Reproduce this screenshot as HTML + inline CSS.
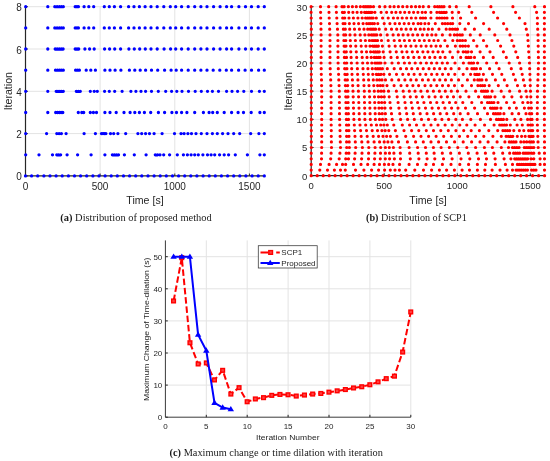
<!DOCTYPE html>
<html><head><meta charset="utf-8"><title>Figure</title>
<style>
html,body{margin:0;padding:0;background:#fff;width:550px;height:461px;overflow:hidden}
svg{display:block;filter:blur(0.45px)}
text{font-family:"Liberation Sans",Arial,sans-serif;fill:#262626}
.ta{font-size:10px}
.tb{font-size:9.5px}
.la{font-size:10.6px}
.tc{font-size:8px}
.cap{font-family:"Liberation Serif","Times New Roman",serif;font-size:10.3px;fill:#1a1a1a}
</style></head><body>
<svg width="550" height="461" viewBox="0 0 550 461">
<rect width="550" height="461" fill="#fff"/>
<g id="pa">
<path d="M100.1 175.9V6.7M174.8 175.9V6.7M249.4 175.9V6.7M25.5 133.6H264.4M25.5 91.3H264.4M25.5 49.0H264.4M25.5 6.7H264.4" stroke="#e3e3e3" stroke-width="1" fill="none"/>
<path d="M25.5 6.7V175.9H264.4" stroke="#262626" stroke-width="1.2" fill="none"/>
<path d="M25.5 175.9h2.4M25.5 133.6h2.4M25.5 91.3h2.4M25.5 49.0h2.4M25.5 6.7h2.4M100.1 175.9v-2.4M174.8 175.9v-2.4M249.4 175.9v-2.4" stroke="#262626" stroke-width="1" fill="none"/>
<path d="M25.7 6.7h0M47.8 6.7h0M54.8 6.7h0M57.1 6.7h0M59.4 6.7h0M61.4 6.7h0M63.3 6.7h0M75.2 6.7h0M76.9 6.7h0M78.4 6.7h0M84.1 6.7h0M88.8 6.7h0M93.7 6.7h0M104.3 6.7h0M109.3 6.7h0M114.4 6.7h0M120.6 6.7h0M128.6 6.7h0M134.0 6.7h0M139.4 6.7h0M145.1 6.7h0M151.0 6.7h0M157.2 6.7h0M163.8 6.7h0M170.3 6.7h0M175.7 6.7h0M181.6 6.7h0M188.2 6.7h0M194.7 6.7h0M200.9 6.7h0M207.0 6.7h0M213.6 6.7h0M220.1 6.7h0M226.6 6.7h0M231.6 6.7h0M238.9 6.7h0M245.5 6.7h0M251.5 6.7h0M258.2 6.7h0M264.3 6.7h0M25.7 27.9h0M47.8 27.9h0M54.8 27.9h0M57.1 27.9h0M59.4 27.9h0M61.4 27.9h0M63.3 27.9h0M75.2 27.9h0M76.9 27.9h0M78.4 27.9h0M84.1 27.9h0M88.8 27.9h0M93.7 27.9h0M104.3 27.9h0M109.3 27.9h0M114.4 27.9h0M120.6 27.9h0M128.6 27.9h0M134.0 27.9h0M139.4 27.9h0M145.1 27.9h0M151.0 27.9h0M157.2 27.9h0M163.8 27.9h0M170.3 27.9h0M175.7 27.9h0M181.6 27.9h0M188.2 27.9h0M194.7 27.9h0M200.9 27.9h0M207.0 27.9h0M213.6 27.9h0M220.1 27.9h0M226.6 27.9h0M231.6 27.9h0M238.9 27.9h0M245.5 27.9h0M251.5 27.9h0M258.2 27.9h0M264.3 27.9h0M25.7 49.0h0M47.8 49.0h0M55.2 49.0h0M57.2 49.0h0M59.3 49.0h0M61.3 49.0h0M63.1 49.0h0M75.2 49.0h0M77.0 49.0h0M78.7 49.0h0M84.9 49.0h0M89.6 49.0h0M94.2 49.0h0M104.6 49.0h0M109.6 49.0h0M114.7 49.0h0M120.6 49.0h0M128.9 49.0h0M134.3 49.0h0M139.7 49.0h0M145.3 49.0h0M151.0 49.0h0M157.2 49.0h0M164.1 49.0h0M170.6 49.0h0M175.7 49.0h0M181.6 49.0h0M188.2 49.0h0M194.7 49.0h0M200.9 49.0h0M207.0 49.0h0M213.6 49.0h0M220.1 49.0h0M226.6 49.0h0M231.6 49.0h0M238.9 49.0h0M245.5 49.0h0M251.5 49.0h0M258.2 49.0h0M264.3 49.0h0M25.7 70.2h0M47.8 70.2h0M55.5 70.2h0M57.6 70.2h0M59.6 70.2h0M61.4 70.2h0M63.3 70.2h0M75.6 70.2h0M77.5 70.2h0M79.4 70.2h0M86.2 70.2h0M90.8 70.2h0M95.4 70.2h0M104.9 70.2h0M110.0 70.2h0M115.1 70.2h0M120.9 70.2h0M129.4 70.2h0M134.8 70.2h0M140.2 70.2h0M145.6 70.2h0M151.5 70.2h0M157.7 70.2h0M164.6 70.2h0M171.1 70.2h0M176.2 70.2h0M181.6 70.2h0M188.2 70.2h0M194.7 70.2h0M200.9 70.2h0M207.0 70.2h0M213.2 70.2h0M219.8 70.2h0M226.3 70.2h0M231.6 70.2h0M238.6 70.2h0M245.1 70.2h0M251.5 70.2h0M258.6 70.2h0M264.3 70.2h0M25.7 91.3h0M47.8 91.3h0M56.2 91.3h0M58.0 91.3h0M59.9 91.3h0M61.6 91.3h0M63.3 91.3h0M76.3 91.3h0M78.3 91.3h0M80.3 91.3h0M90.3 91.3h0M94.2 91.3h0M97.3 91.3h0M104.6 91.3h0M109.3 91.3h0M114.7 91.3h0M122.1 91.3h0M130.9 91.3h0M135.9 91.3h0M141.0 91.3h0M145.6 91.3h0M151.5 91.3h0M158.3 91.3h0M165.7 91.3h0M171.6 91.3h0M176.8 91.3h0M182.0 91.3h0M188.5 91.3h0M195.2 91.3h0M201.3 91.3h0M207.5 91.3h0M212.4 91.3h0M218.5 91.3h0M226.6 91.3h0M232.0 91.3h0M237.6 91.3h0M243.8 91.3h0M251.5 91.3h0M259.4 91.3h0M264.3 91.3h0M25.7 112.5h0M47.8 112.5h0M55.7 112.5h0M57.6 112.5h0M59.4 112.5h0M61.1 112.5h0M62.8 112.5h0M78.3 112.5h0M81.8 112.5h0M83.7 112.5h0M90.3 112.5h0M93.4 112.5h0M96.5 112.5h0M104.9 112.5h0M110.0 112.5h0M116.2 112.5h0M124.0 112.5h0M130.1 112.5h0M134.8 112.5h0M139.4 112.5h0M144.4 112.5h0M150.7 112.5h0M158.4 112.5h0M164.6 112.5h0M171.9 112.5h0M176.5 112.5h0M181.6 112.5h0M186.9 112.5h0M194.7 112.5h0M203.4 112.5h0M209.1 112.5h0M212.7 112.5h0M217.3 112.5h0M224.2 112.5h0M231.6 112.5h0M238.1 112.5h0M243.5 112.5h0M251.2 112.5h0M259.9 112.5h0M264.3 112.5h0M25.7 133.6h0M46.6 133.6h0M56.8 133.6h0M59.1 133.6h0M61.4 133.6h0M66.1 133.6h0M84.1 133.6h0M95.4 133.6h0M101.5 133.6h0M103.0 133.6h0M104.4 133.6h0M105.9 133.6h0M110.5 133.6h0M113.7 133.6h0M117.9 133.6h0M125.7 133.6h0M137.9 133.6h0M141.7 133.6h0M145.6 133.6h0M149.5 133.6h0M154.1 133.6h0M162.1 133.6h0M174.5 133.6h0M181.0 133.6h0M184.1 133.6h0M187.9 133.6h0M191.5 133.6h0M196.0 133.6h0M201.3 133.6h0M207.0 133.6h0M212.4 133.6h0M217.3 133.6h0M222.6 133.6h0M228.0 133.6h0M233.7 133.6h0M239.7 133.6h0M250.7 133.6h0M258.9 133.6h0M264.3 133.6h0M25.7 154.8h0M39.0 154.8h0M52.5 154.8h0M56.8 154.8h0M58.6 154.8h0M60.6 154.8h0M67.1 154.8h0M77.6 154.8h0M91.1 154.8h0M104.9 154.8h0M112.4 154.8h0M114.4 154.8h0M116.5 154.8h0M118.5 154.8h0M124.4 154.8h0M134.3 154.8h0M146.1 154.8h0M155.3 154.8h0M157.5 154.8h0M160.0 154.8h0M163.7 154.8h0M169.6 154.8h0M177.3 154.8h0M183.4 154.8h0M187.4 154.8h0M191.1 154.8h0M194.7 154.8h0M198.3 154.8h0M202.9 154.8h0M207.5 154.8h0M211.1 154.8h0M214.7 154.8h0M219.6 154.8h0M224.2 154.8h0M228.6 154.8h0M235.3 154.8h0M247.4 154.8h0M259.9 154.8h0M264.3 154.8h0M25.5 175.9h0M31.6 175.9h0M37.7 175.9h0M43.9 175.9h0M50.0 175.9h0M56.1 175.9h0M62.2 175.9h0M68.4 175.9h0M74.5 175.9h0M80.6 175.9h0M86.7 175.9h0M92.9 175.9h0M99.0 175.9h0M105.1 175.9h0M111.2 175.9h0M117.3 175.9h0M123.5 175.9h0M129.6 175.9h0M135.7 175.9h0M141.8 175.9h0M148.0 175.9h0M154.1 175.9h0M160.2 175.9h0M166.3 175.9h0M172.5 175.9h0M178.6 175.9h0M184.7 175.9h0M190.8 175.9h0M196.9 175.9h0M203.1 175.9h0M209.2 175.9h0M215.3 175.9h0M221.4 175.9h0M227.6 175.9h0M233.7 175.9h0M239.8 175.9h0M245.9 175.9h0M252.1 175.9h0M258.2 175.9h0M264.3 175.9h0" stroke="#0000ff" stroke-width="3.3" stroke-linecap="round" fill="none"/>
<text x="21.8" y="180.4" class="ta" text-anchor="end">0</text>
<text x="21.8" y="138.1" class="ta" text-anchor="end">2</text>
<text x="21.8" y="95.8" class="ta" text-anchor="end">4</text>
<text x="21.8" y="53.5" class="ta" text-anchor="end">6</text>
<text x="21.8" y="11.2" class="ta" text-anchor="end">8</text>
<text x="25.5" y="190" class="ta" text-anchor="middle">0</text>
<text x="100.1" y="190" class="ta" text-anchor="middle">500</text>
<text x="174.8" y="190" class="ta" text-anchor="middle">1000</text>
<text x="249.4" y="190" class="ta" text-anchor="middle">1500</text>
<text x="145" y="204" class="la" text-anchor="middle">Time [s]</text>
<text transform="translate(12.2 91.2) rotate(-90)" class="la" text-anchor="middle">Iteration</text>
</g>
<g id="pb">
<path d="M384.2 175.7V6.7M457.3 175.7V6.7M530.3 175.7V6.7M311.2 147.5H544.9M311.2 119.4H544.9M311.2 91.2H544.9M311.2 63.0H544.9M311.2 34.9H544.9M311.2 6.7H544.9" stroke="#e3e3e3" stroke-width="1" fill="none"/>
<path d="M311.2 6.7V175.7H544.9" stroke="#262626" stroke-width="1.2" fill="none"/>
<path d="M311.2 175.7h2.4M311.2 147.5h2.4M311.2 119.4h2.4M311.2 91.2h2.4M311.2 63.0h2.4M311.2 34.9h2.4M311.2 6.7h2.4M384.2 175.7v-2.4M457.3 175.7v-2.4M530.3 175.7v-2.4" stroke="#262626" stroke-width="1" fill="none"/>
<path d="M311.2 175.7h0M317.2 175.7h0M323.2 175.7h0M329.2 175.7h0M335.1 175.7h0M341.1 175.7h0M347.1 175.7h0M353.1 175.7h0M359.1 175.7h0M365.1 175.7h0M371.0 175.7h0M377.0 175.7h0M383.0 175.7h0M389.0 175.7h0M395.0 175.7h0M401.0 175.7h0M407.0 175.7h0M412.9 175.7h0M418.9 175.7h0M424.9 175.7h0M430.9 175.7h0M436.9 175.7h0M442.9 175.7h0M448.8 175.7h0M454.8 175.7h0M460.8 175.7h0M466.8 175.7h0M472.8 175.7h0M478.8 175.7h0M484.8 175.7h0M490.7 175.7h0M496.7 175.7h0M502.7 175.7h0M508.7 175.7h0M514.7 175.7h0M520.7 175.7h0M526.6 175.7h0M532.6 175.7h0M538.6 175.7h0M544.6 175.7h0M311.2 170.1h0M319.8 170.1h0M327.5 170.1h0M334.4 170.1h0M340.5 170.1h0M345.3 170.1h0M355.5 170.1h0M363.9 170.1h0M371.6 170.1h0M378.6 170.1h0M384.6 170.1h0M390.3 170.1h0M395.0 170.1h0M399.4 170.1h0M405.7 170.1h0M414.8 170.1h0M423.5 170.1h0M431.6 170.1h0M439.4 170.1h0M446.6 170.1h0M454.4 170.1h0M462.1 170.1h0M469.5 170.1h0M477.4 170.1h0M484.8 170.1h0M492.1 170.1h0M500.0 170.1h0M507.1 170.1h0M512.5 170.1h0M516.1 170.1h0M518.0 170.1h0M519.9 170.1h0M521.8 170.1h0M523.7 170.1h0M525.6 170.1h0M527.5 170.1h0M531.6 170.1h0M533.8 170.1h0M536.0 170.1h0M544.5 170.1h0M311.2 164.4h0M320.5 164.4h0M329.1 164.4h0M336.6 164.4h0M342.5 164.4h0M345.7 164.4h0M353.5 164.4h0M361.0 164.4h0M367.7 164.4h0M374.1 164.4h0M379.5 164.4h0M384.4 164.4h0M388.7 164.4h0M393.0 164.4h0M399.6 164.4h0M409.1 164.4h0M417.5 164.4h0M426.0 164.4h0M433.5 164.4h0M442.4 164.4h0M451.0 164.4h0M459.8 164.4h0M468.6 164.4h0M477.4 164.4h0M485.5 164.4h0M495.4 164.4h0M505.4 164.4h0M512.5 164.4h0M517.4 164.4h0M519.3 164.4h0M521.3 164.4h0M523.2 164.4h0M525.2 164.4h0M527.1 164.4h0M529.1 164.4h0M531.0 164.4h0M533.0 164.4h0M534.9 164.4h0M540.1 164.4h0M544.5 164.4h0M311.2 158.8h0M321.5 158.8h0M330.7 158.8h0M339.2 158.8h0M345.7 158.8h0M348.5 158.8h0M354.6 158.8h0M361.6 158.8h0M368.5 158.8h0M374.6 158.8h0M380.3 158.8h0M385.3 158.8h0M389.6 158.8h0M394.4 158.8h0M400.5 158.8h0M410.3 158.8h0M418.9 158.8h0M427.1 158.8h0M434.8 158.8h0M443.5 158.8h0M452.1 158.8h0M461.0 158.8h0M469.8 158.8h0M478.5 158.8h0M486.5 158.8h0M495.1 158.8h0M504.1 158.8h0M510.9 158.8h0M514.7 158.8h0M516.6 158.8h0M518.4 158.8h0M520.3 158.8h0M522.2 158.8h0M524.1 158.8h0M525.9 158.8h0M527.8 158.8h0M531.1 158.8h0M533.8 158.8h0M540.1 158.8h0M544.5 158.8h0M311.2 153.2h0M321.6 153.2h0M331.1 153.2h0M339.9 153.2h0M346.2 153.2h0M348.9 153.2h0M355.1 153.2h0M362.0 153.2h0M368.6 153.2h0M374.9 153.2h0M380.5 153.2h0M385.4 153.2h0M389.5 153.2h0M393.9 153.2h0M400.3 153.2h0M409.7 153.2h0M418.2 153.2h0M426.3 153.2h0M434.1 153.2h0M442.3 153.2h0M450.7 153.2h0M459.4 153.2h0M468.3 153.2h0M477.1 153.2h0M485.4 153.2h0M493.8 153.2h0M502.7 153.2h0M509.7 153.2h0M513.6 153.2h0M515.6 153.2h0M517.7 153.2h0M519.7 153.2h0M523.2 153.2h0M525.1 153.2h0M527.0 153.2h0M528.9 153.2h0M531.5 153.2h0M533.8 153.2h0M539.2 153.2h0M544.5 153.2h0M311.3 147.5h0M321.7 147.5h0M331.5 147.5h0M340.5 147.5h0M346.7 147.5h0M349.4 147.5h0M355.7 147.5h0M362.4 147.5h0M368.8 147.5h0M375.1 147.5h0M380.7 147.5h0M385.4 147.5h0M389.3 147.5h0M393.4 147.5h0M400.1 147.5h0M409.1 147.5h0M417.6 147.5h0M425.5 147.5h0M433.4 147.5h0M441.1 147.5h0M449.3 147.5h0M457.8 147.5h0M466.8 147.5h0M475.6 147.5h0M484.4 147.5h0M492.4 147.5h0M501.3 147.5h0M508.5 147.5h0M512.5 147.5h0M514.7 147.5h0M516.9 147.5h0M519.1 147.5h0M524.3 147.5h0M526.2 147.5h0M528.1 147.5h0M530.0 147.5h0M531.9 147.5h0M533.8 147.5h0M538.2 147.5h0M544.5 147.5h0M311.3 141.9h0M321.7 141.9h0M331.4 141.9h0M340.3 141.9h0M346.6 141.9h0M349.2 141.9h0M355.3 141.9h0M361.8 141.9h0M368.0 141.9h0M374.1 141.9h0M379.6 141.9h0M384.2 141.9h0M387.9 141.9h0M391.9 141.9h0M398.5 141.9h0M407.4 141.9h0M415.6 141.9h0M423.3 141.9h0M431.0 141.9h0M438.6 141.9h0M446.5 141.9h0M454.6 141.9h0M463.2 141.9h0M471.6 141.9h0M480.0 141.9h0M488.1 141.9h0M497.1 141.9h0M504.9 141.9h0M509.3 141.9h0M511.5 141.9h0M513.7 141.9h0M516.0 141.9h0M520.8 141.9h0M523.9 141.9h0M526.7 141.9h0M529.5 141.9h0M531.6 141.9h0M533.4 141.9h0M538.0 141.9h0M544.5 141.9h0M311.3 136.3h0M321.7 136.3h0M331.3 136.3h0M340.1 136.3h0M346.6 136.3h0M349.0 136.3h0M355.0 136.3h0M361.2 136.3h0M367.2 136.3h0M373.2 136.3h0M378.6 136.3h0M383.0 136.3h0M386.6 136.3h0M390.4 136.3h0M396.9 136.3h0M405.7 136.3h0M413.6 136.3h0M421.0 136.3h0M428.6 136.3h0M436.1 136.3h0M443.7 136.3h0M451.4 136.3h0M459.5 136.3h0M467.7 136.3h0M475.6 136.3h0M483.8 136.3h0M492.9 136.3h0M501.3 136.3h0M506.1 136.3h0M508.3 136.3h0M510.6 136.3h0M512.8 136.3h0M517.3 136.3h0M521.6 136.3h0M525.2 136.3h0M529.0 136.3h0M531.3 136.3h0M533.1 136.3h0M537.8 136.3h0M544.5 136.3h0M311.3 130.6h0M321.7 130.6h0M331.3 130.6h0M340.0 130.6h0M346.5 130.6h0M348.9 130.6h0M354.6 130.6h0M360.6 130.6h0M366.5 130.6h0M372.2 130.6h0M377.5 130.6h0M381.9 130.6h0M385.2 130.6h0M388.8 130.6h0M395.4 130.6h0M404.0 130.6h0M411.6 130.6h0M418.8 130.6h0M426.3 130.6h0M433.5 130.6h0M440.8 130.6h0M448.3 130.6h0M455.9 130.6h0M463.7 130.6h0M471.2 130.6h0M479.4 130.6h0M488.8 130.6h0M497.7 130.6h0M502.9 130.6h0M505.2 130.6h0M507.4 130.6h0M509.7 130.6h0M513.8 130.6h0M519.4 130.6h0M523.8 130.6h0M528.6 130.6h0M531.1 130.6h0M532.7 130.6h0M537.6 130.6h0M544.4 130.6h0M311.3 125.0h0M321.7 125.0h0M331.2 125.0h0M339.8 125.0h0M346.5 125.0h0M348.7 125.0h0M354.3 125.0h0M360.0 125.0h0M365.7 125.0h0M371.3 125.0h0M376.5 125.0h0M380.7 125.0h0M383.9 125.0h0M387.3 125.0h0M393.8 125.0h0M402.3 125.0h0M409.6 125.0h0M416.5 125.0h0M423.9 125.0h0M431.0 125.0h0M438.0 125.0h0M445.1 125.0h0M452.2 125.0h0M459.8 125.0h0M466.8 125.0h0M475.1 125.0h0M484.6 125.0h0M494.1 125.0h0M499.7 125.0h0M502.0 125.0h0M504.3 125.0h0M506.5 125.0h0M510.3 125.0h0M517.1 125.0h0M522.3 125.0h0M528.1 125.0h0M530.8 125.0h0M532.4 125.0h0M537.4 125.0h0M544.4 125.0h0M311.3 119.4h0M321.7 119.4h0M331.1 119.4h0M339.6 119.4h0M346.4 119.4h0M348.5 119.4h0M353.9 119.4h0M359.4 119.4h0M364.9 119.4h0M370.3 119.4h0M375.4 119.4h0M379.5 119.4h0M382.5 119.4h0M385.8 119.4h0M392.2 119.4h0M400.6 119.4h0M407.6 119.4h0M414.3 119.4h0M421.5 119.4h0M428.5 119.4h0M435.2 119.4h0M441.9 119.4h0M448.6 119.4h0M455.8 119.4h0M462.4 119.4h0M470.8 119.4h0M480.4 119.4h0M490.5 119.4h0M496.5 119.4h0M498.8 119.4h0M501.1 119.4h0M503.4 119.4h0M506.8 119.4h0M514.8 119.4h0M520.9 119.4h0M527.6 119.4h0M530.5 119.4h0M532.0 119.4h0M537.2 119.4h0M544.4 119.4h0M311.3 113.7h0M321.7 113.7h0M331.1 113.7h0M339.5 113.7h0M346.2 113.7h0M348.4 113.7h0M353.7 113.7h0M359.2 113.7h0M364.8 113.7h0M370.1 113.7h0M375.2 113.7h0M379.2 113.7h0M382.2 113.7h0M385.4 113.7h0M391.5 113.7h0M399.8 113.7h0M406.7 113.7h0M413.3 113.7h0M420.2 113.7h0M427.0 113.7h0M433.6 113.7h0M440.2 113.7h0M446.8 113.7h0M453.7 113.7h0M460.2 113.7h0M468.1 113.7h0M477.5 113.7h0M487.5 113.7h0M493.5 113.7h0M495.7 113.7h0M498.0 113.7h0M500.2 113.7h0M503.9 113.7h0M512.1 113.7h0M518.7 113.7h0M526.0 113.7h0M529.6 113.7h0M531.7 113.7h0M537.3 113.7h0M544.4 113.7h0M311.3 108.1h0M321.7 108.1h0M331.1 108.1h0M339.5 108.1h0M346.1 108.1h0M348.3 108.1h0M353.5 108.1h0M359.0 108.1h0M364.7 108.1h0M369.9 108.1h0M375.0 108.1h0M379.0 108.1h0M381.9 108.1h0M385.0 108.1h0M390.7 108.1h0M398.9 108.1h0M405.8 108.1h0M412.3 108.1h0M418.9 108.1h0M425.5 108.1h0M432.1 108.1h0M438.5 108.1h0M444.9 108.1h0M451.6 108.1h0M458.0 108.1h0M465.5 108.1h0M474.6 108.1h0M484.5 108.1h0M490.5 108.1h0M492.7 108.1h0M494.9 108.1h0M497.0 108.1h0M500.9 108.1h0M509.4 108.1h0M516.4 108.1h0M524.4 108.1h0M528.7 108.1h0M531.4 108.1h0M537.3 108.1h0M544.4 108.1h0M311.3 102.5h0M321.7 102.5h0M331.1 102.5h0M339.4 102.5h0M345.9 102.5h0M348.1 102.5h0M353.4 102.5h0M358.8 102.5h0M364.5 102.5h0M369.8 102.5h0M374.7 102.5h0M378.7 102.5h0M381.7 102.5h0M384.7 102.5h0M390.0 102.5h0M398.1 102.5h0M405.0 102.5h0M411.3 102.5h0M417.6 102.5h0M423.9 102.5h0M430.5 102.5h0M436.8 102.5h0M443.1 102.5h0M449.5 102.5h0M455.7 102.5h0M462.8 102.5h0M471.8 102.5h0M481.6 102.5h0M487.5 102.5h0M489.6 102.5h0M491.7 102.5h0M493.9 102.5h0M498.0 102.5h0M506.6 102.5h0M514.2 102.5h0M522.8 102.5h0M527.8 102.5h0M531.1 102.5h0M537.4 102.5h0M544.4 102.5h0M311.3 96.8h0M321.7 96.8h0M331.1 96.8h0M339.4 96.8h0M345.8 96.8h0M348.0 96.8h0M353.2 96.8h0M358.6 96.8h0M364.4 96.8h0M369.6 96.8h0M374.5 96.8h0M378.5 96.8h0M381.4 96.8h0M384.3 96.8h0M389.2 96.8h0M397.2 96.8h0M404.1 96.8h0M410.3 96.8h0M416.3 96.8h0M422.4 96.8h0M429.0 96.8h0M435.1 96.8h0M441.2 96.8h0M447.4 96.8h0M453.5 96.8h0M460.2 96.8h0M468.9 96.8h0M478.6 96.8h0M484.5 96.8h0M486.6 96.8h0M488.6 96.8h0M490.7 96.8h0M495.0 96.8h0M503.9 96.8h0M511.9 96.8h0M521.2 96.8h0M526.9 96.8h0M530.8 96.8h0M537.4 96.8h0M544.4 96.8h0M311.3 91.2h0M321.7 91.2h0M331.1 91.2h0M339.3 91.2h0M345.6 91.2h0M347.9 91.2h0M353.0 91.2h0M358.4 91.2h0M364.3 91.2h0M369.4 91.2h0M374.3 91.2h0M378.2 91.2h0M381.1 91.2h0M383.9 91.2h0M388.5 91.2h0M396.4 91.2h0M403.2 91.2h0M409.3 91.2h0M415.0 91.2h0M420.9 91.2h0M427.4 91.2h0M433.4 91.2h0M439.4 91.2h0M445.3 91.2h0M451.3 91.2h0M457.5 91.2h0M466.0 91.2h0M475.6 91.2h0M481.5 91.2h0M483.5 91.2h0M485.5 91.2h0M487.5 91.2h0M492.1 91.2h0M501.2 91.2h0M509.7 91.2h0M519.6 91.2h0M526.0 91.2h0M530.5 91.2h0M537.5 91.2h0M544.4 91.2h0M311.3 85.6h0M321.6 85.6h0M330.9 85.6h0M339.1 85.6h0M345.4 85.6h0M347.7 85.6h0M352.7 85.6h0M358.1 85.6h0M364.0 85.6h0M369.0 85.6h0M373.8 85.6h0M377.6 85.6h0M380.3 85.6h0M382.9 85.6h0M387.0 85.6h0M394.1 85.6h0M401.0 85.6h0M407.1 85.6h0M412.9 85.6h0M418.6 85.6h0M425.0 85.6h0M430.9 85.6h0M436.8 85.6h0M442.5 85.6h0M448.4 85.6h0M454.5 85.6h0M462.3 85.6h0M471.5 85.6h0M477.9 85.6h0M480.6 85.6h0M482.7 85.6h0M484.7 85.6h0M489.2 85.6h0M498.3 85.6h0M507.1 85.6h0M517.5 85.6h0M524.7 85.6h0M530.3 85.6h0M537.7 85.6h0M544.4 85.6h0M311.3 79.9h0M321.5 79.9h0M330.7 79.9h0M338.8 79.9h0M345.2 79.9h0M347.4 79.9h0M352.4 79.9h0M357.9 79.9h0M363.7 79.9h0M368.6 79.9h0M373.3 79.9h0M376.9 79.9h0M379.5 79.9h0M382.0 79.9h0M385.5 79.9h0M391.8 79.9h0M398.7 79.9h0M404.9 79.9h0M410.8 79.9h0M416.3 79.9h0M422.5 79.9h0M428.3 79.9h0M434.2 79.9h0M439.8 79.9h0M445.5 79.9h0M451.4 79.9h0M458.6 79.9h0M467.4 79.9h0M474.3 79.9h0M477.7 79.9h0M479.8 79.9h0M481.9 79.9h0M486.3 79.9h0M495.4 79.9h0M504.4 79.9h0M515.4 79.9h0M523.4 79.9h0M530.1 79.9h0M537.9 79.9h0M544.4 79.9h0M311.3 74.3h0M321.3 74.3h0M330.4 74.3h0M338.6 74.3h0M344.9 74.3h0M347.2 74.3h0M352.0 74.3h0M357.6 74.3h0M363.3 74.3h0M368.3 74.3h0M372.8 74.3h0M376.3 74.3h0M378.7 74.3h0M381.0 74.3h0M383.9 74.3h0M389.6 74.3h0M396.5 74.3h0M402.8 74.3h0M408.6 74.3h0M414.1 74.3h0M420.1 74.3h0M425.8 74.3h0M431.6 74.3h0M437.0 74.3h0M442.6 74.3h0M448.4 74.3h0M454.8 74.3h0M463.2 74.3h0M470.6 74.3h0M474.8 74.3h0M477.0 74.3h0M479.2 74.3h0M483.4 74.3h0M492.5 74.3h0M501.8 74.3h0M513.4 74.3h0M522.2 74.3h0M529.9 74.3h0M538.1 74.3h0M544.4 74.3h0M311.3 68.7h0M321.2 68.7h0M330.2 68.7h0M338.3 68.7h0M344.7 68.7h0M346.9 68.7h0M351.7 68.7h0M357.4 68.7h0M363.0 68.7h0M367.9 68.7h0M372.3 68.7h0M375.6 68.7h0M377.9 68.7h0M380.1 68.7h0M382.4 68.7h0M387.3 68.7h0M394.2 68.7h0M400.6 68.7h0M406.5 68.7h0M411.8 68.7h0M417.6 68.7h0M423.2 68.7h0M429.0 68.7h0M434.3 68.7h0M439.7 68.7h0M445.3 68.7h0M451.1 68.7h0M459.1 68.7h0M467.0 68.7h0M471.9 68.7h0M474.1 68.7h0M476.4 68.7h0M480.5 68.7h0M489.6 68.7h0M499.1 68.7h0M511.3 68.7h0M520.9 68.7h0M529.7 68.7h0M538.3 68.7h0M544.4 68.7h0M311.3 63.0h0M321.1 63.0h0M330.0 63.0h0M338.1 63.0h0M344.5 63.0h0M346.7 63.0h0M351.4 63.0h0M357.1 63.0h0M362.7 63.0h0M367.5 63.0h0M371.8 63.0h0M375.0 63.0h0M377.1 63.0h0M379.1 63.0h0M380.9 63.0h0M385.0 63.0h0M392.0 63.0h0M398.4 63.0h0M404.4 63.0h0M409.5 63.0h0M415.2 63.0h0M420.7 63.0h0M426.4 63.0h0M431.5 63.0h0M436.8 63.0h0M442.3 63.0h0M447.4 63.0h0M455.0 63.0h0M463.4 63.0h0M469.0 63.0h0M471.3 63.0h0M473.6 63.0h0M477.6 63.0h0M486.7 63.0h0M496.5 63.0h0M509.2 63.0h0M519.6 63.0h0M529.5 63.0h0M538.5 63.0h0M544.4 63.0h0M311.3 57.4h0M321.1 57.4h0M330.0 57.4h0M338.0 57.4h0M344.4 57.4h0M346.5 57.4h0M351.1 57.4h0M356.7 57.4h0M362.2 57.4h0M367.0 57.4h0M371.2 57.4h0M374.3 57.4h0M376.3 57.4h0M378.3 57.4h0M380.1 57.4h0M384.1 57.4h0M391.0 57.4h0M397.3 57.4h0M403.2 57.4h0M408.2 57.4h0M413.8 57.4h0M419.1 57.4h0M424.6 57.4h0M429.7 57.4h0M434.9 57.4h0M440.2 57.4h0M445.1 57.4h0M452.5 57.4h0M460.7 57.4h0M466.1 57.4h0M468.5 57.4h0M470.9 57.4h0M474.5 57.4h0M483.4 57.4h0M493.2 57.4h0M506.3 57.4h0M517.7 57.4h0M529.1 57.4h0M538.4 57.4h0M544.4 57.4h0M311.3 51.8h0M321.1 51.8h0M330.0 51.8h0M338.0 51.8h0M344.2 51.8h0M346.3 51.8h0M350.8 51.8h0M356.3 51.8h0M361.7 51.8h0M366.5 51.8h0M370.6 51.8h0M373.6 51.8h0M375.5 51.8h0M377.5 51.8h0M379.3 51.8h0M383.2 51.8h0M390.1 51.8h0M396.3 51.8h0M402.0 51.8h0M406.9 51.8h0M412.3 51.8h0M417.5 51.8h0M422.9 51.8h0M427.9 51.8h0M433.0 51.8h0M438.1 51.8h0M442.8 51.8h0M450.0 51.8h0M458.1 51.8h0M463.2 51.8h0M465.7 51.8h0M468.1 51.8h0M471.5 51.8h0M480.1 51.8h0M490.0 51.8h0M503.4 51.8h0M515.8 51.8h0M528.7 51.8h0M538.3 51.8h0M544.4 51.8h0M311.3 46.1h0M321.1 46.1h0M330.0 46.1h0M337.9 46.1h0M344.1 46.1h0M346.0 46.1h0M350.6 46.1h0M355.8 46.1h0M361.2 46.1h0M365.9 46.1h0M370.0 46.1h0M372.8 46.1h0M374.8 46.1h0M376.6 46.1h0M378.4 46.1h0M382.4 46.1h0M389.1 46.1h0M395.2 46.1h0M400.8 46.1h0M405.7 46.1h0M410.9 46.1h0M416.0 46.1h0M421.1 46.1h0M426.1 46.1h0M431.1 46.1h0M436.0 46.1h0M440.5 46.1h0M447.4 46.1h0M455.4 46.1h0M460.2 46.1h0M462.8 46.1h0M465.4 46.1h0M468.4 46.1h0M476.9 46.1h0M486.7 46.1h0M500.6 46.1h0M513.8 46.1h0M528.4 46.1h0M538.2 46.1h0M544.4 46.1h0M311.3 40.5h0M321.1 40.5h0M330.0 40.5h0M337.9 40.5h0M343.9 40.5h0M345.8 40.5h0M350.3 40.5h0M355.4 40.5h0M360.7 40.5h0M365.4 40.5h0M369.4 40.5h0M372.1 40.5h0M374.0 40.5h0M375.8 40.5h0M377.6 40.5h0M381.5 40.5h0M388.2 40.5h0M394.2 40.5h0M399.6 40.5h0M404.4 40.5h0M409.4 40.5h0M414.4 40.5h0M419.4 40.5h0M424.3 40.5h0M429.2 40.5h0M433.9 40.5h0M438.2 40.5h0M444.9 40.5h0M452.8 40.5h0M457.3 40.5h0M460.0 40.5h0M462.6 40.5h0M465.4 40.5h0M473.6 40.5h0M483.5 40.5h0M497.7 40.5h0M511.9 40.5h0M528.0 40.5h0M538.1 40.5h0M544.4 40.5h0M311.3 34.9h0M321.1 34.9h0M330.0 34.9h0M337.8 34.9h0M343.8 34.9h0M345.6 34.9h0M350.0 34.9h0M355.0 34.9h0M360.2 34.9h0M364.9 34.9h0M368.8 34.9h0M371.4 34.9h0M373.2 34.9h0M375.0 34.9h0M376.8 34.9h0M380.6 34.9h0M387.2 34.9h0M393.1 34.9h0M398.4 34.9h0M403.1 34.9h0M408.0 34.9h0M412.8 34.9h0M417.6 34.9h0M422.5 34.9h0M427.3 34.9h0M431.8 34.9h0M435.9 34.9h0M442.4 34.9h0M450.1 34.9h0M454.4 34.9h0M457.2 34.9h0M459.9 34.9h0M462.3 34.9h0M470.3 34.9h0M480.2 34.9h0M494.8 34.9h0M510.0 34.9h0M527.6 34.9h0M538.0 34.9h0M544.4 34.9h0M311.3 29.2h0M321.0 29.2h0M329.7 29.2h0M337.5 29.2h0M343.4 29.2h0M345.3 29.2h0M349.7 29.2h0M354.5 29.2h0M359.4 29.2h0M364.0 29.2h0M367.7 29.2h0M370.2 29.2h0M372.0 29.2h0M373.8 29.2h0M375.6 29.2h0M379.2 29.2h0M385.7 29.2h0M391.5 29.2h0M396.7 29.2h0M401.3 29.2h0M406.1 29.2h0M410.8 29.2h0M415.5 29.2h0M420.3 29.2h0M424.1 29.2h0M428.4 29.2h0M432.3 29.2h0M438.9 29.2h0M446.2 29.2h0M449.8 29.2h0M452.5 29.2h0M455.2 29.2h0M457.5 29.2h0M465.1 29.2h0M474.4 29.2h0M489.2 29.2h0M506.8 29.2h0M526.3 29.2h0M537.7 29.2h0M544.4 29.2h0M311.2 23.6h0M320.9 23.6h0M329.5 23.6h0M337.1 23.6h0M343.1 23.6h0M345.0 23.6h0M349.4 23.6h0M354.0 23.6h0M358.6 23.6h0M363.1 23.6h0M366.7 23.6h0M369.0 23.6h0M370.8 23.6h0M372.6 23.6h0M374.4 23.6h0M377.8 23.6h0M384.2 23.6h0M389.9 23.6h0M395.0 23.6h0M399.5 23.6h0M404.2 23.6h0M408.8 23.6h0M413.4 23.6h0M418.1 23.6h0M421.0 23.6h0M424.9 23.6h0M428.7 23.6h0M435.3 23.6h0M442.4 23.6h0M445.1 23.6h0M447.8 23.6h0M450.5 23.6h0M452.7 23.6h0M459.8 23.6h0M468.5 23.6h0M483.6 23.6h0M503.6 23.6h0M525.0 23.6h0M537.4 23.6h0M544.4 23.6h0M311.2 18.0h0M320.7 18.0h0M329.2 18.0h0M336.8 18.0h0M342.7 18.0h0M344.7 18.0h0M349.0 18.0h0M353.4 18.0h0M357.9 18.0h0M362.2 18.0h0M365.6 18.0h0M367.7 18.0h0M369.5 18.0h0M371.3 18.0h0M373.1 18.0h0M376.3 18.0h0M382.6 18.0h0M388.2 18.0h0M393.4 18.0h0M397.7 18.0h0M402.2 18.0h0M406.7 18.0h0M411.3 18.0h0M415.8 18.0h0M420.5 18.0h0M423.0 18.0h0M425.5 18.0h0M430.9 18.0h0M437.0 18.0h0M439.5 18.0h0M442.0 18.0h0M444.5 18.0h0M447.0 18.0h0M452.5 18.0h0M460.6 18.0h0M475.6 18.0h0M497.6 18.0h0M519.4 18.0h0M537.4 18.0h0M544.4 18.0h0M311.1 12.3h0M320.6 12.3h0M329.0 12.3h0M336.4 12.3h0M342.4 12.3h0M344.4 12.3h0M348.7 12.3h0M352.9 12.3h0M357.1 12.3h0M361.3 12.3h0M364.6 12.3h0M366.5 12.3h0M368.3 12.3h0M370.1 12.3h0M371.9 12.3h0M374.9 12.3h0M381.1 12.3h0M386.6 12.3h0M391.7 12.3h0M395.9 12.3h0M400.3 12.3h0M404.7 12.3h0M409.2 12.3h0M413.6 12.3h0M417.9 12.3h0M422.2 12.3h0M425.5 12.3h0M430.9 12.3h0M436.9 12.3h0M439.6 12.3h0M441.8 12.3h0M444.0 12.3h0M446.2 12.3h0M452.2 12.3h0M458.7 12.3h0M471.8 12.3h0M493.6 12.3h0M515.6 12.3h0M536.6 12.3h0M544.4 12.3h0M311.1 6.7h0M320.5 6.7h0M328.7 6.7h0M336.1 6.7h0M342.0 6.7h0M344.1 6.7h0M348.4 6.7h0M352.4 6.7h0M356.3 6.7h0M360.4 6.7h0M363.5 6.7h0M365.3 6.7h0M367.1 6.7h0M368.9 6.7h0M370.7 6.7h0M373.5 6.7h0M379.6 6.7h0M385.0 6.7h0M390.0 6.7h0M394.1 6.7h0M398.4 6.7h0M402.7 6.7h0M407.1 6.7h0M411.4 6.7h0M415.6 6.7h0M419.5 6.7h0M423.2 6.7h0M428.7 6.7h0M434.7 6.7h0M437.4 6.7h0M439.6 6.7h0M441.8 6.7h0M444.0 6.7h0M449.7 6.7h0M456.3 6.7h0M469.2 6.7h0M490.9 6.7h0M512.9 6.7h0M534.8 6.7h0M544.5 6.7h0" stroke="#ff0000" stroke-width="3.2" stroke-linecap="round" fill="none"/>
<text x="307.2" y="179.6" class="tb" text-anchor="end">0</text>
<text x="307.2" y="151.4" class="tb" text-anchor="end">5</text>
<text x="307.2" y="123.3" class="tb" text-anchor="end">10</text>
<text x="307.2" y="95.1" class="tb" text-anchor="end">15</text>
<text x="307.2" y="66.9" class="tb" text-anchor="end">20</text>
<text x="307.2" y="38.8" class="tb" text-anchor="end">25</text>
<text x="307.2" y="10.6" class="tb" text-anchor="end">30</text>
<text x="311.2" y="189.2" class="tb" text-anchor="middle">0</text>
<text x="384.2" y="189.2" class="tb" text-anchor="middle">500</text>
<text x="457.3" y="189.2" class="tb" text-anchor="middle">1000</text>
<text x="530.3" y="189.2" class="tb" text-anchor="middle">1500</text>
<text x="428" y="204" class="la" text-anchor="middle">Time [s]</text>
<text transform="translate(292.2 91.3) rotate(-90)" class="la" text-anchor="middle">Iteration</text>
</g>
<text x="60.3" y="221" class="cap" textLength="151.5" lengthAdjust="spacingAndGlyphs"><tspan font-weight="bold">(a)</tspan> Distribution of proposed method</text>
<text x="366" y="220.6" class="cap" textLength="100.8" lengthAdjust="spacingAndGlyphs"><tspan font-weight="bold">(b)</tspan> Distribution of SCP1</text>
<g id="pc">
<path d="M206.3 417.2V240.4M247.2 417.2V240.4M288.1 417.2V240.4M329.0 417.2V240.4M369.9 417.2V240.4M410.8 417.2V240.4M165.4 385.1H410.8M165.4 353.0H410.8M165.4 320.9H410.8M165.4 288.8H410.8M165.4 256.7H410.8" stroke="#e3e3e3" stroke-width="1" fill="none"/>
<path d="M165.4 240.4V417.2H410.8" stroke="#3a3a3a" stroke-width="1" fill="none"/>
<path d="M165.4 417.2h2.4M165.4 385.1h2.4M165.4 353.0h2.4M165.4 320.9h2.4M165.4 288.8h2.4M165.4 256.7h2.4M206.3 417.2v-2.4M247.2 417.2v-2.4M288.1 417.2v-2.4M329.0 417.2v-2.4M369.9 417.2v-2.4M410.8 417.2v-2.4" stroke="#262626" stroke-width="1" fill="none"/>
<path d="M173.6 301.0L181.8 257.7L189.9 342.7L198.1 363.9L206.3 363.0L214.5 380.0L222.7 370.3L230.8 394.1L239.0 387.7L247.2 401.8L255.4 398.9L263.6 397.6L271.7 395.4L279.9 394.4L288.1 394.7L296.3 396.0L304.5 395.1L312.6 394.1L320.8 393.4L329.0 392.2L337.2 390.9L345.4 389.6L353.5 388.0L361.7 386.7L369.9 384.8L378.1 381.9L386.3 378.7L394.4 376.1L402.6 352.0L410.8 311.9" stroke="#ff0000" stroke-width="2" stroke-dasharray="6.5 2.8" fill="none"/>
<rect x="171.7" y="299.1" width="3.7" height="3.7" fill="#ff4040" stroke="#ff0000" stroke-width="1.4"/>
<rect x="179.9" y="255.8" width="3.7" height="3.7" fill="#ff4040" stroke="#ff0000" stroke-width="1.4"/>
<rect x="188.1" y="340.9" width="3.7" height="3.7" fill="#ff4040" stroke="#ff0000" stroke-width="1.4"/>
<rect x="196.3" y="362.1" width="3.7" height="3.7" fill="#ff4040" stroke="#ff0000" stroke-width="1.4"/>
<rect x="204.5" y="361.1" width="3.7" height="3.7" fill="#ff4040" stroke="#ff0000" stroke-width="1.4"/>
<rect x="212.6" y="378.1" width="3.7" height="3.7" fill="#ff4040" stroke="#ff0000" stroke-width="1.4"/>
<rect x="220.8" y="368.5" width="3.7" height="3.7" fill="#ff4040" stroke="#ff0000" stroke-width="1.4"/>
<rect x="229.0" y="392.2" width="3.7" height="3.7" fill="#ff4040" stroke="#ff0000" stroke-width="1.4"/>
<rect x="237.2" y="385.8" width="3.7" height="3.7" fill="#ff4040" stroke="#ff0000" stroke-width="1.4"/>
<rect x="245.3" y="399.9" width="3.7" height="3.7" fill="#ff4040" stroke="#ff0000" stroke-width="1.4"/>
<rect x="253.5" y="397.1" width="3.7" height="3.7" fill="#ff4040" stroke="#ff0000" stroke-width="1.4"/>
<rect x="261.7" y="395.8" width="3.7" height="3.7" fill="#ff4040" stroke="#ff0000" stroke-width="1.4"/>
<rect x="269.9" y="393.5" width="3.7" height="3.7" fill="#ff4040" stroke="#ff0000" stroke-width="1.4"/>
<rect x="278.1" y="392.6" width="3.7" height="3.7" fill="#ff4040" stroke="#ff0000" stroke-width="1.4"/>
<rect x="286.2" y="392.9" width="3.7" height="3.7" fill="#ff4040" stroke="#ff0000" stroke-width="1.4"/>
<rect x="294.4" y="394.2" width="3.7" height="3.7" fill="#ff4040" stroke="#ff0000" stroke-width="1.4"/>
<rect x="302.6" y="393.2" width="3.7" height="3.7" fill="#ff4040" stroke="#ff0000" stroke-width="1.4"/>
<rect x="310.8" y="392.2" width="3.7" height="3.7" fill="#ff4040" stroke="#ff0000" stroke-width="1.4"/>
<rect x="319.0" y="391.6" width="3.7" height="3.7" fill="#ff4040" stroke="#ff0000" stroke-width="1.4"/>
<rect x="327.1" y="390.3" width="3.7" height="3.7" fill="#ff4040" stroke="#ff0000" stroke-width="1.4"/>
<rect x="335.3" y="389.0" width="3.7" height="3.7" fill="#ff4040" stroke="#ff0000" stroke-width="1.4"/>
<rect x="343.5" y="387.7" width="3.7" height="3.7" fill="#ff4040" stroke="#ff0000" stroke-width="1.4"/>
<rect x="351.7" y="386.1" width="3.7" height="3.7" fill="#ff4040" stroke="#ff0000" stroke-width="1.4"/>
<rect x="359.9" y="384.9" width="3.7" height="3.7" fill="#ff4040" stroke="#ff0000" stroke-width="1.4"/>
<rect x="368.0" y="382.9" width="3.7" height="3.7" fill="#ff4040" stroke="#ff0000" stroke-width="1.4"/>
<rect x="376.2" y="380.0" width="3.7" height="3.7" fill="#ff4040" stroke="#ff0000" stroke-width="1.4"/>
<rect x="384.4" y="376.8" width="3.7" height="3.7" fill="#ff4040" stroke="#ff0000" stroke-width="1.4"/>
<rect x="392.6" y="374.3" width="3.7" height="3.7" fill="#ff4040" stroke="#ff0000" stroke-width="1.4"/>
<rect x="400.8" y="350.2" width="3.7" height="3.7" fill="#ff4040" stroke="#ff0000" stroke-width="1.4"/>
<rect x="408.9" y="310.1" width="3.7" height="3.7" fill="#ff4040" stroke="#ff0000" stroke-width="1.4"/>
<path d="M173.6 256.7L181.8 256.7L189.9 256.7L198.1 334.7L206.3 350.6L214.5 402.8L222.7 407.6L230.8 409.2" stroke="#0000ff" stroke-width="2" fill="none"/>
<path d="M173.6 253.4l3.2 5.4h-6.4z" fill="#0000ff"/>
<path d="M181.8 253.4l3.2 5.4h-6.4z" fill="#0000ff"/>
<path d="M189.9 253.4l3.2 5.4h-6.4z" fill="#0000ff"/>
<path d="M198.1 331.4l3.2 5.4h-6.4z" fill="#0000ff"/>
<path d="M206.3 347.3l3.2 5.4h-6.4z" fill="#0000ff"/>
<path d="M214.5 399.5l3.2 5.4h-6.4z" fill="#0000ff"/>
<path d="M222.7 404.3l3.2 5.4h-6.4z" fill="#0000ff"/>
<path d="M230.8 405.9l3.2 5.4h-6.4z" fill="#0000ff"/>
<text x="162.3" y="420.1" class="tc" text-anchor="end">0</text>
<text x="162.3" y="388.0" class="tc" text-anchor="end">10</text>
<text x="162.3" y="355.9" class="tc" text-anchor="end">20</text>
<text x="162.3" y="323.8" class="tc" text-anchor="end">30</text>
<text x="162.3" y="291.7" class="tc" text-anchor="end">40</text>
<text x="162.3" y="259.6" class="tc" text-anchor="end">50</text>
<text x="165.4" y="429.4" class="tc" text-anchor="middle">0</text>
<text x="206.3" y="429.4" class="tc" text-anchor="middle">5</text>
<text x="247.2" y="429.4" class="tc" text-anchor="middle">10</text>
<text x="288.1" y="429.4" class="tc" text-anchor="middle">15</text>
<text x="329.0" y="429.4" class="tc" text-anchor="middle">20</text>
<text x="369.9" y="429.4" class="tc" text-anchor="middle">25</text>
<text x="410.8" y="429.4" class="tc" text-anchor="middle">30</text>
<text x="287.8" y="439.5" class="tc" text-anchor="middle" textLength="63.4" lengthAdjust="spacingAndGlyphs">Iteration Number</text>
<text transform="translate(149.1 329.3) rotate(-90)" class="tc" text-anchor="middle" textLength="143.3" lengthAdjust="spacingAndGlyphs">Maximum Change of Time-dilation (s)</text>
<rect x="258.3" y="245.7" width="58.9" height="22.3" fill="#fff" stroke="#404040" stroke-width="0.8"/>
<path d="M260.5 252.5H268.5M276.2 252.5H279.8" stroke="#ff0000" stroke-width="2" fill="none"/>
<rect x="268.8" y="250.6" width="3.7" height="3.7" fill="#ff4040" stroke="#ff0000" stroke-width="1.4"/>
<path d="M260.5 263H279.8" stroke="#0000ff" stroke-width="2" fill="none"/>
<path d="M270.2 259.7l3.2 5.4h-6.4z" fill="#0000ff"/>
<text x="281.3" y="255.4" class="tc">SCP1</text>
<text x="281.3" y="266" class="tc">Proposed</text>
</g>
<text x="169.6" y="456" class="cap" textLength="213.3" lengthAdjust="spacingAndGlyphs"><tspan font-weight="bold">(c)</tspan> Maximum change or time dilation with iteration</text>
</svg>
</body></html>
